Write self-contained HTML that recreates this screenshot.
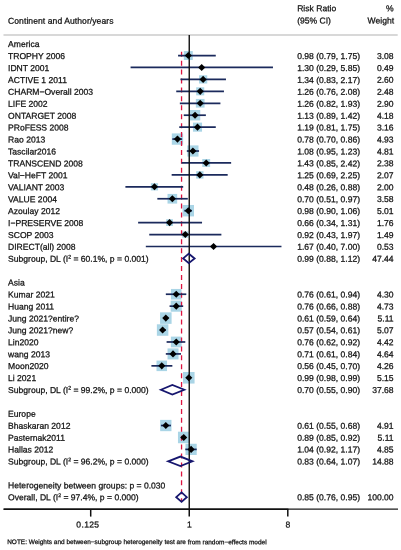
<!DOCTYPE html><html><head><meta charset="utf-8"><title>Forest plot</title><style>html,body{margin:0;padding:0;background:#fff}svg{display:block}svg text{font-family:"Liberation Sans",sans-serif;stroke:#111;stroke-width:0.25px}</style></head><body><svg width="401" height="550" viewBox="0 0 401 550" font-size="8.57" fill="#111">
<rect width="401" height="550" fill="#fff"/>
<text x="8.05" y="23.8" letter-spacing="0.065" transform="rotate(0.04 8.05 23.8)">Continent and Author/years</text>
<text x="297.2" y="11.2" transform="rotate(0.04 297.2 11.2)">Risk Ratio</text>
<text x="297.2" y="23.5" transform="rotate(0.04 297.2 23.5)">(95% CI)</text>
<text x="393.6" y="11.2" text-anchor="end" transform="rotate(0.04 393.6 11.2)">%</text>
<text x="394.1" y="23.5" text-anchor="end" transform="rotate(0.04 394.1 23.5)">Weight</text>
<line x1="3.5" x2="397.7" y1="35.0" y2="35.0" stroke="#cbcbcb" stroke-width="1.5"/>
<rect x="183.82" y="51.06" width="8.95" height="8.95" fill="#aad5e6"/>
<rect x="199.90" y="65.69" width="3.57" height="3.57" fill="#aad5e6"/>
<rect x="199.01" y="75.29" width="8.22" height="8.22" fill="#aad5e6"/>
<rect x="196.19" y="87.32" width="8.03" height="8.03" fill="#aad5e6"/>
<rect x="195.86" y="98.93" width="8.68" height="8.68" fill="#aad5e6"/>
<rect x="189.83" y="110.00" width="10.43" height="10.43" fill="#aad5e6"/>
<rect x="192.96" y="122.61" width="9.07" height="9.07" fill="#aad5e6"/>
<rect x="171.81" y="133.42" width="11.32" height="11.32" fill="#aad5e6"/>
<rect x="187.30" y="145.42" width="11.19" height="11.19" fill="#aad5e6"/>
<rect x="202.27" y="159.02" width="7.87" height="7.87" fill="#aad5e6"/>
<rect x="196.16" y="171.22" width="7.34" height="7.34" fill="#aad5e6"/>
<rect x="150.86" y="183.21" width="7.21" height="7.21" fill="#aad5e6"/>
<rect x="167.52" y="193.93" width="9.65" height="9.65" fill="#aad5e6"/>
<rect x="182.58" y="204.98" width="11.42" height="11.42" fill="#aad5e6"/>
<rect x="166.17" y="219.24" width="6.77" height="6.77" fill="#aad5e6"/>
<rect x="182.19" y="231.45" width="6.23" height="6.23" fill="#aad5e6"/>
<rect x="211.70" y="244.64" width="3.71" height="3.71" fill="#aad5e6"/>
<rect x="170.96" y="288.95" width="10.58" height="10.58" fill="#aad5e6"/>
<rect x="170.70" y="300.62" width="11.09" height="11.09" fill="#aad5e6"/>
<rect x="160.06" y="312.34" width="11.53" height="11.53" fill="#aad5e6"/>
<rect x="156.87" y="324.30" width="11.48" height="11.48" fill="#aad5e6"/>
<rect x="170.88" y="336.61" width="10.72" height="10.72" fill="#aad5e6"/>
<rect x="167.53" y="348.42" width="10.99" height="10.99" fill="#aad5e6"/>
<rect x="156.51" y="360.58" width="10.53" height="10.53" fill="#aad5e6"/>
<rect x="182.99" y="371.99" width="11.57" height="11.57" fill="#aad5e6"/>
<rect x="160.17" y="419.87" width="11.30" height="11.30" fill="#aad5e6"/>
<rect x="177.96" y="431.69" width="11.53" height="11.53" fill="#aad5e6"/>
<rect x="185.49" y="443.77" width="11.23" height="11.23" fill="#aad5e6"/>
<line x1="181.55" x2="181.55" y1="51.7" y2="501.3" stroke="#dc1440" stroke-width="1.3" stroke-dasharray="5,3.93"/>
<line x1="178.08" x2="215.77" y1="55.54" y2="55.54" stroke="#1b2a5c" stroke-width="1.7"/>
<line x1="130.58" x2="272.97" y1="67.47" y2="67.47" stroke="#1b2a5c" stroke-width="1.7"/>
<line x1="180.42" x2="225.97" y1="79.41" y2="79.41" stroke="#1b2a5c" stroke-width="1.7"/>
<line x1="176.24" x2="223.96" y1="91.34" y2="91.34" stroke="#1b2a5c" stroke-width="1.7"/>
<line x1="179.84" x2="220.41" y1="103.28" y2="103.28" stroke="#1b2a5c" stroke-width="1.7"/>
<line x1="183.73" x2="205.87" y1="115.21" y2="115.21" stroke="#1b2a5c" stroke-width="1.7"/>
<line x1="179.26" x2="215.77" y1="127.15" y2="127.15" stroke="#1b2a5c" stroke-width="1.7"/>
<line x1="172.35" x2="182.10" y1="139.08" y2="139.08" stroke="#1b2a5c" stroke-width="1.7"/>
<line x1="186.82" x2="199.06" y1="151.02" y2="151.02" stroke="#1b2a5c" stroke-width="1.7"/>
<line x1="181.55" x2="231.13" y1="162.95" y2="162.95" stroke="#1b2a5c" stroke-width="1.7"/>
<line x1="171.66" x2="227.68" y1="174.88" y2="174.88" stroke="#1b2a5c" stroke-width="1.7"/>
<line x1="125.41" x2="183.19" y1="186.82" y2="186.82" stroke="#1b2a5c" stroke-width="1.7"/>
<line x1="157.34" x2="187.81" y1="198.75" y2="198.75" stroke="#1b2a5c" stroke-width="1.7"/>
<line x1="184.26" x2="192.01" y1="210.69" y2="210.69" stroke="#1b2a5c" stroke-width="1.7"/>
<line x1="138.12" x2="202.05" y1="222.62" y2="222.62" stroke="#1b2a5c" stroke-width="1.7"/>
<line x1="149.25" x2="221.38" y1="234.56" y2="234.56" stroke="#1b2a5c" stroke-width="1.7"/>
<line x1="145.82" x2="281.47" y1="246.50" y2="246.50" stroke="#1b2a5c" stroke-width="1.7"/>
<line x1="165.82" x2="186.32" y1="294.24" y2="294.24" stroke="#1b2a5c" stroke-width="1.7"/>
<line x1="169.56" x2="183.19" y1="306.17" y2="306.17" stroke="#1b2a5c" stroke-width="1.7"/>
<line x1="164.24" x2="168.10" y1="318.11" y2="318.11" stroke="#1b2a5c" stroke-width="1.7"/>
<line x1="160.05" x2="165.82" y1="330.04" y2="330.04" stroke="#1b2a5c" stroke-width="1.7"/>
<line x1="166.59" x2="185.30" y1="341.98" y2="341.98" stroke="#1b2a5c" stroke-width="1.7"/>
<line x1="165.82" x2="180.99" y1="353.91" y2="353.91" stroke="#1b2a5c" stroke-width="1.7"/>
<line x1="151.41" x2="172.35" y1="365.85" y2="365.85" stroke="#1b2a5c" stroke-width="1.7"/>
<line x1="188.29" x2="188.77" y1="377.78" y2="377.78" stroke="#1b2a5c" stroke-width="1.7"/>
<line x1="160.92" x2="170.97" y1="425.52" y2="425.52" stroke="#1b2a5c" stroke-width="1.7"/>
<line x1="181.55" x2="185.30" y1="437.46" y2="437.46" stroke="#1b2a5c" stroke-width="1.7"/>
<line x1="185.30" x2="196.69" y1="449.39" y2="449.39" stroke="#1b2a5c" stroke-width="1.7"/>
<line x1="189.25" x2="189.25" y1="35.1" y2="509.3" stroke="#111" stroke-width="1.4"/>
<polygon points="184.74,55.54 188.29,51.99 191.84,55.54 188.29,59.09" fill="#000"/>
<polygon points="198.13,67.47 201.68,63.92 205.23,67.47 201.68,71.02" fill="#000"/>
<polygon points="199.57,79.41 203.12,75.86 206.67,79.41 203.12,82.95" fill="#000"/>
<polygon points="196.65,91.34 200.20,87.79 203.75,91.34 200.20,94.89" fill="#000"/>
<polygon points="196.65,103.28 200.20,99.73 203.75,103.28 200.20,106.83" fill="#000"/>
<polygon points="191.49,115.21 195.04,111.66 198.59,115.21 195.04,118.76" fill="#000"/>
<polygon points="193.94,127.15 197.49,123.60 201.04,127.15 197.49,130.70" fill="#000"/>
<polygon points="173.92,139.08 177.47,135.53 181.02,139.08 177.47,142.63" fill="#000"/>
<polygon points="189.35,151.02 192.90,147.47 196.45,151.02 192.90,154.57" fill="#000"/>
<polygon points="202.65,162.95 206.20,159.40 209.75,162.95 206.20,166.50" fill="#000"/>
<polygon points="196.28,174.88 199.83,171.33 203.38,174.88 199.83,178.44" fill="#000"/>
<polygon points="150.92,186.82 154.47,183.27 158.02,186.82 154.47,190.37" fill="#000"/>
<polygon points="168.80,198.75 172.35,195.20 175.90,198.75 172.35,202.31" fill="#000"/>
<polygon points="184.74,210.69 188.29,207.14 191.84,210.69 188.29,214.24" fill="#000"/>
<polygon points="166.01,222.62 169.56,219.07 173.11,222.62 169.56,226.18" fill="#000"/>
<polygon points="181.75,234.56 185.30,231.01 188.85,234.56 185.30,238.11" fill="#000"/>
<polygon points="210.00,246.50 213.55,242.94 217.10,246.50 213.55,250.05" fill="#000"/>
<polygon points="183.19,258.43 188.77,253.68 194.62,258.43 188.77,263.18" fill="none" stroke="#16166e" stroke-width="1.8" stroke-linejoin="miter"/>
<polygon points="172.69,294.24 176.24,290.69 179.79,294.24 176.24,297.79" fill="#000"/>
<polygon points="172.69,306.17 176.24,302.62 179.79,306.17 176.24,309.72" fill="#000"/>
<polygon points="162.27,318.11 165.82,314.56 169.37,318.11 165.82,321.66" fill="#000"/>
<polygon points="159.06,330.04 162.61,326.49 166.16,330.04 162.61,333.59" fill="#000"/>
<polygon points="172.69,341.98 176.24,338.43 179.79,341.98 176.24,345.53" fill="#000"/>
<polygon points="169.47,353.91 173.02,350.36 176.57,353.91 173.02,357.46" fill="#000"/>
<polygon points="158.22,365.85 161.77,362.30 165.32,365.85 161.77,369.40" fill="#000"/>
<polygon points="185.22,377.78 188.77,374.23 192.32,377.78 188.77,381.33" fill="#000"/>
<polygon points="160.92,389.72 172.35,384.97 184.26,389.72 172.35,394.47" fill="none" stroke="#16166e" stroke-width="1.8" stroke-linejoin="miter"/>
<polygon points="162.27,425.52 165.82,421.97 169.37,425.52 165.82,429.07" fill="#000"/>
<polygon points="180.18,437.46 183.73,433.91 187.28,437.46 183.73,441.01" fill="#000"/>
<polygon points="187.56,449.39 191.11,445.84 194.66,449.39 191.11,452.94" fill="#000"/>
<polygon points="168.10,461.33 180.42,456.58 192.46,461.33 180.42,466.08" fill="none" stroke="#16166e" stroke-width="1.8" stroke-linejoin="miter"/>
<polygon points="176.24,497.13 181.55,492.38 186.82,497.13 181.55,501.88" fill="none" stroke="#16166e" stroke-width="1.8" stroke-linejoin="miter"/>
<text x="8.05" y="47.10" transform="rotate(0.04 8.05 47.10)">America</text>
<text x="8.05" y="59.03" transform="rotate(0.04 8.05 59.03)">TROPHY 2006</text>
<text x="297.2" y="59.03" transform="rotate(0.04 297.2 59.03)">0.98 (0.79, 1.75)</text>
<text x="393.6" y="59.03" text-anchor="end" transform="rotate(0.04 393.6 59.03)">3.08</text>
<text x="8.05" y="70.95" transform="rotate(0.04 8.05 70.95)">IDNT 2001</text>
<text x="297.2" y="70.95" transform="rotate(0.04 297.2 70.95)">1.30 (0.29, 5.85)</text>
<text x="393.6" y="70.95" text-anchor="end" transform="rotate(0.04 393.6 70.95)">0.49</text>
<text x="8.05" y="82.88" transform="rotate(0.04 8.05 82.88)">ACTIVE 1 2011</text>
<text x="297.2" y="82.88" transform="rotate(0.04 297.2 82.88)">1.34 (0.83, 2.17)</text>
<text x="393.6" y="82.88" text-anchor="end" transform="rotate(0.04 393.6 82.88)">2.60</text>
<text x="8.05" y="94.80" transform="rotate(0.04 8.05 94.80)">CHARM−Overall 2003</text>
<text x="297.2" y="94.80" transform="rotate(0.04 297.2 94.80)">1.26 (0.76, 2.08)</text>
<text x="393.6" y="94.80" text-anchor="end" transform="rotate(0.04 393.6 94.80)">2.48</text>
<text x="8.05" y="106.73" transform="rotate(0.04 8.05 106.73)">LIFE 2002</text>
<text x="297.2" y="106.73" transform="rotate(0.04 297.2 106.73)">1.26 (0.82, 1.93)</text>
<text x="393.6" y="106.73" text-anchor="end" transform="rotate(0.04 393.6 106.73)">2.90</text>
<text x="8.05" y="118.66" transform="rotate(0.04 8.05 118.66)">ONTARGET 2008</text>
<text x="297.2" y="118.66" transform="rotate(0.04 297.2 118.66)">1.13 (0.89, 1.42)</text>
<text x="393.6" y="118.66" text-anchor="end" transform="rotate(0.04 393.6 118.66)">4.18</text>
<text x="8.05" y="130.58" transform="rotate(0.04 8.05 130.58)">PRoFESS 2008</text>
<text x="297.2" y="130.58" transform="rotate(0.04 297.2 130.58)">1.19 (0.81, 1.75)</text>
<text x="393.6" y="130.58" text-anchor="end" transform="rotate(0.04 393.6 130.58)">3.16</text>
<text x="8.05" y="142.51" transform="rotate(0.04 8.05 142.51)">Rao 2013</text>
<text x="297.2" y="142.51" transform="rotate(0.04 297.2 142.51)">0.78 (0.70, 0.86)</text>
<text x="393.6" y="142.51" text-anchor="end" transform="rotate(0.04 393.6 142.51)">4.93</text>
<text x="8.05" y="154.43" transform="rotate(0.04 8.05 154.43)">Tascilar2016</text>
<text x="297.2" y="154.43" transform="rotate(0.04 297.2 154.43)">1.08 (0.95, 1.23)</text>
<text x="393.6" y="154.43" text-anchor="end" transform="rotate(0.04 393.6 154.43)">4.81</text>
<text x="8.05" y="166.36" transform="rotate(0.04 8.05 166.36)">TRANSCEND 2008</text>
<text x="297.2" y="166.36" transform="rotate(0.04 297.2 166.36)">1.43 (0.85, 2.42)</text>
<text x="393.6" y="166.36" text-anchor="end" transform="rotate(0.04 393.6 166.36)">2.38</text>
<text x="8.05" y="178.29" transform="rotate(0.04 8.05 178.29)">Val−HeFT 2001</text>
<text x="297.2" y="178.29" transform="rotate(0.04 297.2 178.29)">1.25 (0.69, 2.25)</text>
<text x="393.6" y="178.29" text-anchor="end" transform="rotate(0.04 393.6 178.29)">2.07</text>
<text x="8.05" y="190.21" transform="rotate(0.04 8.05 190.21)">VALIANT 2003</text>
<text x="297.2" y="190.21" transform="rotate(0.04 297.2 190.21)">0.48 (0.26, 0.88)</text>
<text x="393.6" y="190.21" text-anchor="end" transform="rotate(0.04 393.6 190.21)">2.00</text>
<text x="8.05" y="202.14" transform="rotate(0.04 8.05 202.14)">VALUE 2004</text>
<text x="297.2" y="202.14" transform="rotate(0.04 297.2 202.14)">0.70 (0.51, 0.97)</text>
<text x="393.6" y="202.14" text-anchor="end" transform="rotate(0.04 393.6 202.14)">3.58</text>
<text x="8.05" y="214.06" transform="rotate(0.04 8.05 214.06)">Azoulay 2012</text>
<text x="297.2" y="214.06" transform="rotate(0.04 297.2 214.06)">0.98 (0.90, 1.06)</text>
<text x="393.6" y="214.06" text-anchor="end" transform="rotate(0.04 393.6 214.06)">5.01</text>
<text x="8.05" y="225.99" transform="rotate(0.04 8.05 225.99)">I−PRESERVE 2008</text>
<text x="297.2" y="225.99" transform="rotate(0.04 297.2 225.99)">0.66 (0.34, 1.31)</text>
<text x="393.6" y="225.99" text-anchor="end" transform="rotate(0.04 393.6 225.99)">1.76</text>
<text x="8.05" y="237.92" transform="rotate(0.04 8.05 237.92)">SCOP 2003</text>
<text x="297.2" y="237.92" transform="rotate(0.04 297.2 237.92)">0.92 (0.43, 1.97)</text>
<text x="393.6" y="237.92" text-anchor="end" transform="rotate(0.04 393.6 237.92)">1.49</text>
<text x="8.05" y="249.84" transform="rotate(0.04 8.05 249.84)">DIRECT(all) 2008</text>
<text x="297.2" y="249.84" transform="rotate(0.04 297.2 249.84)">1.67 (0.40, 7.00)</text>
<text x="393.6" y="249.84" text-anchor="end" transform="rotate(0.04 393.6 249.84)">0.53</text>
<text x="8.05" y="261.77" transform="rotate(0.04 8.05 261.77)">Subgroup, DL (I<tspan font-size="5.2" dy="-3.4">2</tspan><tspan dy="3.4"> = 60.1%, p = 0.001)</tspan></text>
<text x="297.2" y="261.77" transform="rotate(0.04 297.2 261.77)">0.99 (0.88, 1.12)</text>
<text x="393.6" y="261.77" text-anchor="end" transform="rotate(0.04 393.6 261.77)">47.44</text>
<text x="8.05" y="285.62" transform="rotate(0.04 8.05 285.62)">Asia</text>
<text x="8.05" y="297.55" transform="rotate(0.04 8.05 297.55)">Kumar 2021</text>
<text x="297.2" y="297.55" transform="rotate(0.04 297.2 297.55)">0.76 (0.61, 0.94)</text>
<text x="393.6" y="297.55" text-anchor="end" transform="rotate(0.04 393.6 297.55)">4.30</text>
<text x="8.05" y="309.47" transform="rotate(0.04 8.05 309.47)">Huang 2011</text>
<text x="297.2" y="309.47" transform="rotate(0.04 297.2 309.47)">0.76 (0.66, 0.88)</text>
<text x="393.6" y="309.47" text-anchor="end" transform="rotate(0.04 393.6 309.47)">4.73</text>
<text x="8.05" y="321.40" transform="rotate(0.04 8.05 321.40)">Jung 2021?entire?</text>
<text x="297.2" y="321.40" transform="rotate(0.04 297.2 321.40)">0.61 (0.59, 0.64)</text>
<text x="393.6" y="321.40" text-anchor="end" transform="rotate(0.04 393.6 321.40)">5.11</text>
<text x="8.05" y="333.32" transform="rotate(0.04 8.05 333.32)">Jung 2021?new?</text>
<text x="297.2" y="333.32" transform="rotate(0.04 297.2 333.32)">0.57 (0.54, 0.61)</text>
<text x="393.6" y="333.32" text-anchor="end" transform="rotate(0.04 393.6 333.32)">5.07</text>
<text x="8.05" y="345.25" transform="rotate(0.04 8.05 345.25)">Lin2020</text>
<text x="297.2" y="345.25" transform="rotate(0.04 297.2 345.25)">0.76 (0.62, 0.92)</text>
<text x="393.6" y="345.25" text-anchor="end" transform="rotate(0.04 393.6 345.25)">4.42</text>
<text x="8.05" y="357.18" transform="rotate(0.04 8.05 357.18)">wang 2013</text>
<text x="297.2" y="357.18" transform="rotate(0.04 297.2 357.18)">0.71 (0.61, 0.84)</text>
<text x="393.6" y="357.18" text-anchor="end" transform="rotate(0.04 393.6 357.18)">4.64</text>
<text x="8.05" y="369.10" transform="rotate(0.04 8.05 369.10)">Moon2020</text>
<text x="297.2" y="369.10" transform="rotate(0.04 297.2 369.10)">0.56 (0.45, 0.70)</text>
<text x="393.6" y="369.10" text-anchor="end" transform="rotate(0.04 393.6 369.10)">4.26</text>
<text x="8.05" y="381.03" transform="rotate(0.04 8.05 381.03)">Li 2021</text>
<text x="297.2" y="381.03" transform="rotate(0.04 297.2 381.03)">0.99 (0.98, 0.99)</text>
<text x="393.6" y="381.03" text-anchor="end" transform="rotate(0.04 393.6 381.03)">5.15</text>
<text x="8.05" y="392.95" transform="rotate(0.04 8.05 392.95)">Subgroup, DL (I<tspan font-size="5.2" dy="-3.4">2</tspan><tspan dy="3.4"> = 99.2%, p = 0.000)</tspan></text>
<text x="297.2" y="392.95" transform="rotate(0.04 297.2 392.95)">0.70 (0.55, 0.90)</text>
<text x="393.6" y="392.95" text-anchor="end" transform="rotate(0.04 393.6 392.95)">37.68</text>
<text x="8.05" y="416.81" transform="rotate(0.04 8.05 416.81)">Europe</text>
<text x="8.05" y="428.73" transform="rotate(0.04 8.05 428.73)">Bhaskaran 2012</text>
<text x="297.2" y="428.73" transform="rotate(0.04 297.2 428.73)">0.61 (0.55, 0.68)</text>
<text x="393.6" y="428.73" text-anchor="end" transform="rotate(0.04 393.6 428.73)">4.91</text>
<text x="8.05" y="440.66" transform="rotate(0.04 8.05 440.66)">Pasternak2011</text>
<text x="297.2" y="440.66" transform="rotate(0.04 297.2 440.66)">0.89 (0.85, 0.92)</text>
<text x="393.6" y="440.66" text-anchor="end" transform="rotate(0.04 393.6 440.66)">5.11</text>
<text x="8.05" y="452.58" transform="rotate(0.04 8.05 452.58)">Hallas 2012</text>
<text x="297.2" y="452.58" transform="rotate(0.04 297.2 452.58)">1.04 (0.92, 1.17)</text>
<text x="393.6" y="452.58" text-anchor="end" transform="rotate(0.04 393.6 452.58)">4.85</text>
<text x="8.05" y="464.51" transform="rotate(0.04 8.05 464.51)">Subgroup, DL (I<tspan font-size="5.2" dy="-3.4">2</tspan><tspan dy="3.4"> = 96.2%, p = 0.000)</tspan></text>
<text x="297.2" y="464.51" transform="rotate(0.04 297.2 464.51)">0.83 (0.64, 1.07)</text>
<text x="393.6" y="464.51" text-anchor="end" transform="rotate(0.04 393.6 464.51)">14.88</text>
<text x="8.05" y="488.36" transform="rotate(0.04 8.05 488.36)">Heterogeneity between groups: p = 0.030</text>
<text x="8.05" y="500.29" transform="rotate(0.04 8.05 500.29)">Overall, DL (I<tspan font-size="5.2" dy="-3.4">2</tspan><tspan dy="3.4"> = 97.4%, p = 0.000)</tspan></text>
<text x="297.2" y="500.29" transform="rotate(0.04 297.2 500.29)">0.85 (0.76, 0.95)</text>
<text x="393.6" y="500.29" text-anchor="end" transform="rotate(0.04 393.6 500.29)">100.00</text>
<line x1="3.6" x2="398" y1="509.1" y2="509.1" stroke="#1a1a1a" stroke-width="1.45"/>
<line x1="3.6" x2="288.40" y1="509.2" y2="509.2" stroke="#111" stroke-width="1.65"/>
<line x1="90.70" x2="90.70" y1="509.2" y2="516.6" stroke="#111" stroke-width="1.5"/>
<text x="76.3" y="527.6" letter-spacing="0.35" transform="rotate(0.04 76.3 527.6)">0.125</text>
<line x1="189.25" x2="189.25" y1="509.2" y2="516.6" stroke="#111" stroke-width="1.5"/>
<text x="189.35" y="527.5" text-anchor="middle" transform="rotate(0.04 189.35 527.5)">1</text>
<line x1="287.80" x2="287.80" y1="509.2" y2="516.6" stroke="#111" stroke-width="1.5"/>
<text x="287.90" y="527.5" text-anchor="middle" transform="rotate(0.04 287.90 527.5)">8</text>
<text x="7.2" y="544" font-size="6.47" transform="rotate(0.04 7.2 544)">NOTE: Weights and between−subgroup heterogeneity test are from random−effects model</text>
</svg></body></html>
